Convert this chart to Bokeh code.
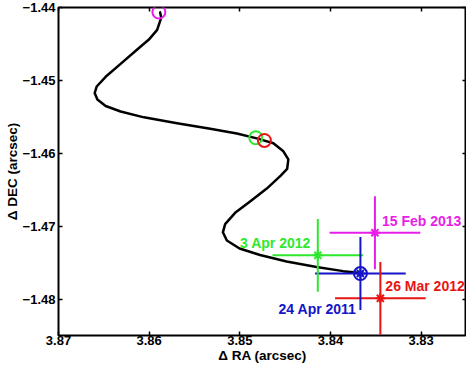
from bokeh.plotting import figure
from bokeh.models import (Range1d, LinearAxis, FixedTicker, CustomJSTickFormatter,
                          ColumnDataSource)
from bokeh.core.properties import value
from bokeh.embed import file_html
from bokeh.resources import INLINE

# ---- data ----
x_ticks = [3.87, 3.86, 3.85, 3.84, 3.83]
y_ticks = [-1.48, -1.47, -1.46, -1.45, -1.44]

# model track (RA, DEC in arcsec)
track_ra = [3.85879, 3.85868, 3.85876, 3.85912, 3.86003, 3.86151, 3.86315, 3.86480,
            3.86579, 3.86601, 3.86571, 3.86480, 3.86315, 3.86058, 3.85692, 3.85326,
            3.85033, 3.84813, 3.84630, 3.84520, 3.84465, 3.84478, 3.84549, 3.84703,
            3.84887, 3.85052, 3.85162, 3.85187, 3.85143, 3.85003, 3.84777, 3.84484,
            3.84154, 3.83860, 3.83696, 3.83670]
track_dec = [-1.44067, -1.44133, -1.44173, -1.44307, -1.44440, -1.44596, -1.44773, -1.44951,
             -1.45084, -1.45173, -1.45263, -1.45351, -1.45427, -1.45507, -1.45587, -1.45663,
             -1.45729, -1.45796, -1.45863, -1.45973, -1.46084, -1.46213, -1.46307, -1.46484,
             -1.46663, -1.46817, -1.46973, -1.47084, -1.47196, -1.47307, -1.47396, -1.47484,
             -1.47560, -1.47617, -1.47640, -1.47653]

# predicted positions on track at epochs
pred_ra = [3.85893, 3.84824, 3.84729, 3.8367]
pred_dec = [-1.44062, -1.45787, -1.45824, -1.4765]
pred_color = ["#e81ee8", "#2ee82e", "#e81414", "#1414c8"]

# observations
obs_label = ["24 Apr 2011", "3 Apr 2012", "26 Mar 2012", "15 Feb 2013"]
obs_ra = [3.8367, 3.8414, 3.8345, 3.8351]
obs_dec = [-1.4765, -1.4740, -1.4799, -1.4709]
ra_err = [0.0050, 0.0050, 0.0050, 0.0050]
dec_err = [0.0050, 0.0050, 0.0050, 0.0050]
obs_color = ["#1414c8", "#2ee82e", "#e81414", "#e81ee8"]

# ---- styles ----
FONT = "Liberation Sans"
label_style = [  # (align, x_offset, y_offset)
    ("right", -4, 35),
    ("right", -7, -12),
    ("left", 5, -12),
    ("left", 7, -12),
]

p = figure(width=466, height=365, output_backend="svg", toolbar_location=None,
           x_range=Range1d(3.87, 3.825), y_range=Range1d(-1.485, -1.44),
           min_border_left=58, min_border_right=0, min_border_top=7, min_border_bottom=0)
p.grid.visible = False
p.outline_line_color = "black"
p.outline_line_width = 2
p.background_fill_color = "white"
p.border_fill_color = "white"

fmt = CustomJSTickFormatter(code="return tick.toFixed(2).replace('-', '\u2212');")

def style_axis(ax, ticks, show_labels):
    ax.ticker = FixedTicker(ticks=ticks)
    ax.axis_line_color = None
    ax.major_tick_in = 4
    ax.major_tick_out = 0
    ax.major_tick_line_width = 1.5
    ax.major_tick_line_color = "black"
    ax.minor_tick_line_color = None
    if show_labels:
        ax.formatter = fmt
        ax.major_label_text_font = FONT
        ax.major_label_text_font_style = "bold"
        ax.major_label_text_color = "black"
        ax.major_label_text_font_size = "13px"
        ax.major_label_standoff = 0
        ax.axis_label_text_font = FONT
        ax.axis_label_text_font_style = "bold"
        ax.axis_label_text_font_size = "13.5px"
        ax.axis_label_text_color = "black"
        ax.axis_label_standoff = 0
    else:
        ax.major_label_text_font_size = "0px"
        ax.major_label_text_color = None
        ax.major_label_standoff = 0

style_axis(p.xaxis[0], x_ticks, True)
style_axis(p.yaxis[0], y_ticks, True)
p.yaxis[0].major_label_standoff = 3
p.xaxis[0].axis_label = "\u0394 RA (arcsec)"
p.yaxis[0].axis_label = "\u0394 DEC (arcsec)"

top = LinearAxis()
style_axis(top, x_ticks, False)
p.add_layout(top, "above")
right = LinearAxis()
style_axis(right, y_ticks, False)
p.add_layout(right, "right")

# track
p.line(track_ra, track_dec, line_color="black", line_width=2.5,
       line_join="round", line_cap="round")

# error bars
src = ColumnDataSource(dict(
    ra=obs_ra, dec=obs_dec, color=obs_color,
    x0=[r - e for r, e in zip(obs_ra, ra_err)], x1=[r + e for r, e in zip(obs_ra, ra_err)],
    y0=[d - e for d, e in zip(obs_dec, dec_err)], y1=[d + e for d, e in zip(obs_dec, dec_err)],
))
p.segment(x0="x0", x1="x1", y0="dec", y1="dec", line_color="color", line_width=2, source=src)
p.segment(x0="ra", x1="ra", y0="y0", y1="y1", line_color="color", line_width=2, source=src)
p.scatter(x="ra", y="dec", marker="asterisk", size=10, line_color="color", line_width=2, source=src)

# predicted positions
p.scatter(pred_ra, pred_dec, marker="circle", size=13, fill_color=None,
          line_color=pred_color, line_width=2)

# labels
for i, lab in enumerate(obs_label):
    align, dx, dy = label_style[i]
    p.text(x=[obs_ra[i]], y=[obs_dec[i]], text=[lab], text_color=obs_color[i],
           text_font=value(FONT), text_font_style="bold", text_font_size="14px",
           text_align=align, text_baseline="middle", x_offset=dx, y_offset=dy)

open("out.html", "w").write(file_html(p, INLINE))
